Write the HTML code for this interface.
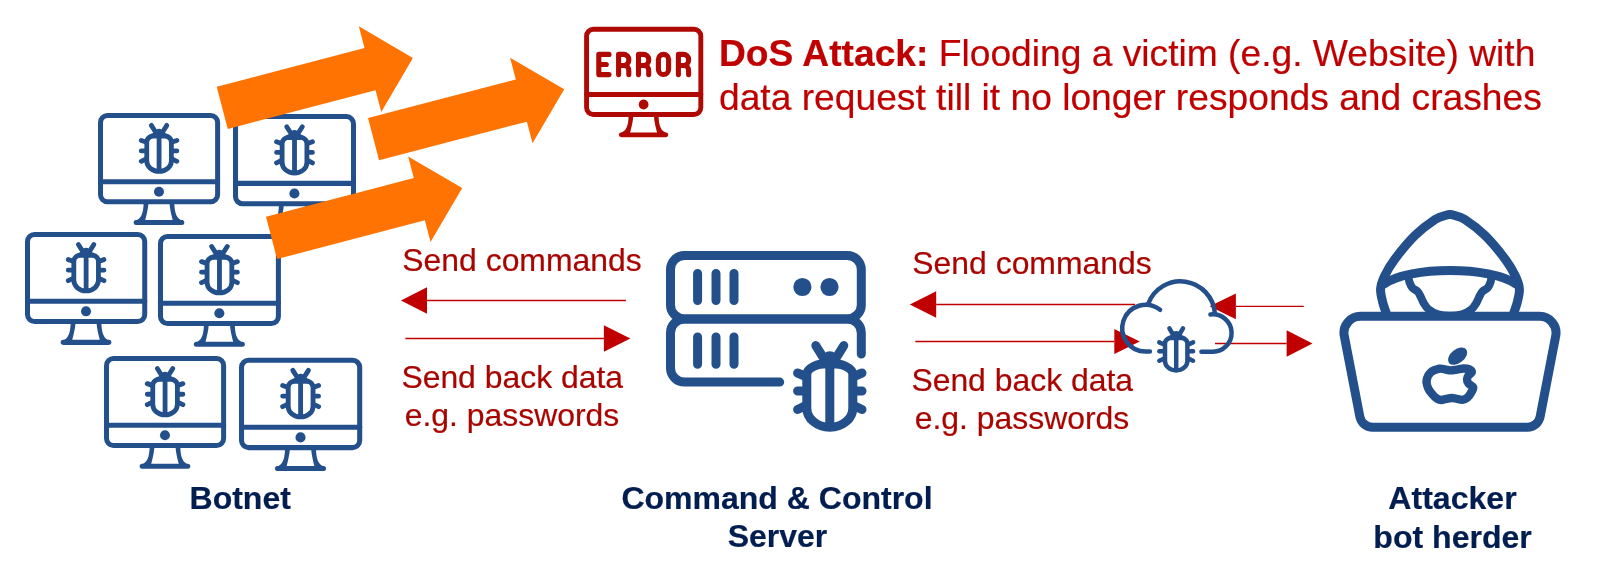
<!DOCTYPE html>
<html><head><meta charset="utf-8"><title>Botnet</title>
<style>
html,body{margin:0;padding:0;background:#fff;}
body{width:1609px;height:575px;overflow:hidden;font-family:"Liberation Sans",sans-serif;}
svg{display:block;position:absolute;left:0;top:0;will-change:transform;}
text{font-family:"Liberation Sans",sans-serif;}
</style></head><body>
<svg width="1609" height="575" viewBox="0 0 1609 575">
<rect width="1609" height="575" fill="#fff"/>
<defs><g id="mon">
<g fill="none" stroke="#234F8B" stroke-width="5.0" stroke-linecap="round" stroke-linejoin="round">
<rect x="2.45" y="2.45" width="117.1" height="86.4" rx="7" ry="7"/>
<path d="M2.45 68.7H119.55"/>
<path d="M38.1 109.55H83.7"/>
</g>
<path fill="#234F8B" d="M45.6 90C45.2 100 43.6 106 36.5 108L46.9 108C48.5 102 50 96 50.4 90ZM76.2 90C76.6 100 78.2 106 85.3 108L74.9 108C73.3 102 71.8 96 71.4 90Z"/>
<circle cx="60.9" cy="78.75" r="5" fill="#234F8B"/>
<g fill="none" stroke="#234F8B" stroke-width="4.8" stroke-linecap="round" stroke-linejoin="round">
<path d="M48.7 29.05A12.3 7.6 0 0 1 73.3 29.05L73.3 48.05A12.3 10.4 0 0 1 48.7 48.05Z"/>
<path d="M61 21.45L61 58.45" stroke-linecap="butt" stroke-width="4.8"/>
<path d="M58.4 20.5L53.25 12.45M63.6 20.5L68.75 12.45"/>
<path d="M48 29.15L43.2 27.45M74 29.15L78.8 27.45M48 37.95L43.2 37.95M74 37.95L78.8 37.95M48 46.05L43.2 48.35M74 46.05L78.8 48.35"/>
</g>
<path fill="#234F8B" d="M50.04 25.6A12.3 7.6 0 0 1 71.96 25.6Z"/>
<circle cx="61" cy="19.9" r="4.2" fill="#234F8B"/>
</g></defs>
<use href="#mon" transform="translate(98.07 112.95) scale(1 1)"/>
<use href="#mon" transform="translate(233.06 114.13) scale(1.0075 1.008)"/>
<use href="#mon" transform="translate(25.06 231.94) scale(1.001 1.008)"/>
<use href="#mon" transform="translate(158.02 233.97) scale(1.007 1.0075)"/>
<use href="#mon" transform="translate(104.07 356) scale(1.0 1.007)"/>
<use href="#mon" transform="translate(239.07 357.8) scale(1.009 1.011)"/>
<polygon fill="#FF7302" points="216.72,86.66 364.51,47.98 358.84,26.31 412.9,57.9 381.25,111.93 375.58,90.26 227.78,128.94"/>
<polygon fill="#FF7302" points="368.02,118.06 515.81,79.38 510.14,57.71 564.2,89.3 532.55,143.33 526.88,121.66 379.08,160.34"/>
<polygon fill="#FF7302" points="266.02,216.76 413.81,178.08 408.14,156.41 462.2,188 430.55,242.03 424.88,220.36 277.08,259.04"/>
<g transform="translate(584.17 26.78) scale(0.9757 0.9866)">
<g fill="none" stroke="#B00903" stroke-width="5.0" stroke-linecap="round" stroke-linejoin="round">
<rect x="2.45" y="2.45" width="117.1" height="86.4" rx="7" ry="7"/>
<path d="M2.45 68.7H119.55"/>
<path d="M38.1 109.55H83.7"/>
</g>
<path fill="#B00903" d="M45.6 90C45.2 100 43.6 106 36.5 108L46.9 108C48.5 102 50 96 50.4 90ZM76.2 90C76.6 100 78.2 106 85.3 108L74.9 108C73.3 102 71.8 96 71.4 90Z"/>
<circle cx="60.9" cy="78.75" r="5" fill="#B00903"/>
</g>
<g fill="none" stroke="#B00903" stroke-width="5.1" stroke-linecap="round" stroke-linejoin="round">
<path d="M609 54.4H598.8V74.6H609M598.8 64.5H606.3M618.6 74.6V54.4H623.6A5.2 5.2 0 0 1 628.8 59.6V60.3A5.2 5.2 0 0 1 623.6 65.5H618.6M624.1 65.5C628.1 66 628.8 68 628.8 71V74.6M638.5 74.6V54.4H643.5A5.2 5.2 0 0 1 648.7 59.6V60.3A5.2 5.2 0 0 1 643.5 65.5H638.5M644 65.5C648 66 648.7 68 648.7 71V74.6M658.4 59.5A5.1 5.1 0 0 1 668.6 59.5V69.4A5.1 5.1 0 0 1 658.4 69.4ZM678.4 74.6V54.4H683.4A5.2 5.2 0 0 1 688.6 59.6V60.3A5.2 5.2 0 0 1 683.4 65.5H678.4M683.9 65.5C687.9 66 688.6 68 688.6 71V74.6"/>
</g>
<text x="719" y="66" font-size="37.2" fill="#C00000" stroke="#C00000" stroke-width="0.2"><tspan font-weight="bold">DoS Attack:</tspan> Flooding a victim (e.g. Website) with</text>
<text x="719" y="110" font-size="37.2" fill="#C00000" stroke="#C00000" stroke-width="0.2">data request till it no longer responds and crashes</text>
<text x="522" y="270.5" font-size="31.9" text-anchor="middle" fill="#A90500" stroke="#A90500" stroke-width="0.2">Send commands</text>
<text x="512.2" y="387.5" font-size="31.9" text-anchor="middle" fill="#A90500" stroke="#A90500" stroke-width="0.2">Send back data</text>
<text x="512" y="426" font-size="31.9" text-anchor="middle" fill="#A90500" stroke="#A90500" stroke-width="0.2">e.g. passwords</text>
<text x="1032" y="273.6" font-size="31.9" text-anchor="middle" fill="#A90500" stroke="#A90500" stroke-width="0.2">Send commands</text>
<text x="1022.2" y="390.6" font-size="31.9" text-anchor="middle" fill="#A90500" stroke="#A90500" stroke-width="0.2">Send back data</text>
<text x="1022" y="429" font-size="31.9" text-anchor="middle" fill="#A90500" stroke="#A90500" stroke-width="0.2">e.g. passwords</text>
<path d="M625.9 300.5H427" stroke="#C00000" stroke-width="1.35" fill="none"/><path d="M400.9 300.5L427 287.3V313.7Z" fill="#C00000"/>
<path d="M405.4 338.5H603.9" stroke="#C00000" stroke-width="1.35" fill="none"/><path d="M630.4 338.5L603.9 325.3V351.7Z" fill="#C00000"/>
<path d="M1135 304.5H936.2" stroke="#C00000" stroke-width="1.35" fill="none"/><path d="M909.8 304.5L936.2 291.3V317.7Z" fill="#C00000"/>
<path d="M915.3 341.5H1114.3" stroke="#C00000" stroke-width="1.35" fill="none"/><path d="M1139.8 341.5L1114.3 328.9V354.1Z" fill="#C00000"/>
<path d="M1303.8 306.3H1235.9" stroke="#C00000" stroke-width="1.35" fill="none"/><path d="M1209.6 306.3L1235.9 293.4V319.2Z" fill="#C00000"/>
<path d="M1215 343.5H1286.6" stroke="#C00000" stroke-width="1.35" fill="none"/><path d="M1312.5 343.5L1286.6 330.3V356.7Z" fill="#C00000"/>
<g fill="none" stroke="#234F8B" stroke-width="9" stroke-linecap="round" stroke-linejoin="round">
<rect x="670.5" y="255.5" width="190.8" height="63.4" rx="14" ry="14"/>
<path d="M779.7 382.1H684.5A14 14 0 0 1 670.5 368.1V332.9A14 14 0 0 1 684.5 318.9H847.3A14 14 0 0 1 861.3 332.9V354"/>
<path d="M697.6 273.5V300.5M716 273.5V300.5M734 273.5V300.5M697.6 336.9V364.2M716 336.9V364.2M734 336.9V364.2"/>
</g>
<circle cx="802.4" cy="287" r="9.1" fill="#234F8B"/><circle cx="829.5" cy="287" r="9.1" fill="#234F8B"/>
<g fill="none" stroke="#234F8B" stroke-width="9" stroke-linecap="round" stroke-linejoin="round">
<path d="M806.8 374.6A23 11.5 0 0 1 852.8 374.6L852.8 408.2A23 19 0 0 1 806.8 408.2Z"/>
<path d="M829.8 363.1L829.8 427.2" stroke-linecap="butt" stroke-width="9"/>
<path d="M824.8 360L815.8 345.6M834.8 360L843.8 345.6"/>
<path d="M805.8 376.5L797.6 373M853.8 376.5L862 373M805.8 391L797.6 391M853.8 391L862 391M805.8 405.5L797.6 409.5M853.8 405.5L862 409.5"/>
</g>
<path fill="#234F8B" d="M810.18 368.6A23 11.5 0 0 1 849.42 368.6Z"/>
<circle cx="829.8" cy="359.3" r="8" fill="#234F8B"/>
<g fill="none" stroke="#234F8B" stroke-width="4.5" stroke-linecap="round" stroke-linejoin="round">
<path d="M1160.1 309.8A23.4 23.4 0 1 0 1145.8 351.6H1149.9"/>
<path d="M1148.2 303.7A34.5 34.5 0 0 1 1214.9 313.4"/>
<path d="M1210.4 314.4A18.75 18.75 0 1 1 1211.6 351.7H1201.4"/>
</g>
<g fill="none" stroke="#234F8B" stroke-width="4.5" stroke-linecap="round" stroke-linejoin="round">
<path d="M1165 343.2A11.2 6.6 0 0 1 1187.4 343.2L1187.4 361A11.2 9.4 0 0 1 1165 361Z"/>
<path d="M1176.2 336.6L1176.2 370.4" stroke-linecap="butt" stroke-width="4.5"/>
<path d="M1173.9 336L1169.4 328.4M1178.5 336L1183 328.4"/>
<path d="M1164.2 344.5L1159.3 342.4M1188.2 344.5L1193.1 342.4M1164.2 351.3L1159.3 351.3M1188.2 351.3L1193.1 351.3M1164.2 358.6L1159.3 360.7M1188.2 358.6L1193.1 360.7"/>
</g>
<path fill="#234F8B" d="M1166.14 340.3A11.2 6.6 0 0 1 1186.26 340.3Z"/>
<circle cx="1176.2" cy="335" r="3.9" fill="#234F8B"/>
<g fill="none" stroke="#234F8B" stroke-width="9" stroke-linecap="round" stroke-linejoin="round">
<path d="M1386.6 314C1385.95 312.02 1383.7 306.28 1382.7 302.1C1381.7 297.92 1380.28 293.25 1380.6 288.9C1380.92 284.55 1382.3 280.87 1384.6 276C1386.9 271.13 1389.35 266.45 1394.4 259.7C1399.45 252.95 1408.12 242.22 1414.9 235.5C1421.68 228.78 1429.92 222.77 1435.1 219.4C1440.28 216.03 1443.52 216.1 1446 215.3C1448.48 214.5 1448.67 214.6 1450 214.6C1451.33 214.6 1451.52 214.5 1454 215.3C1456.48 216.1 1459.72 216.03 1464.9 219.4C1470.08 222.77 1478.32 228.78 1485.1 235.5C1491.88 242.22 1500.55 252.95 1505.6 259.7C1510.65 266.45 1513.1 271.13 1515.4 276C1517.7 280.87 1519.08 284.55 1519.4 288.9C1519.72 293.25 1518.3 297.92 1517.3 302.1C1516.3 306.28 1514.05 312.02 1513.4 314"/>
<path d="M1384 284C1410 266 1490 266 1516 284"/>
<path d="M1408.3 277C1408.52 277.92 1408.92 280.7 1409.6 282.5C1410.28 284.3 1411.07 286.28 1412.4 287.8C1413.73 289.32 1416.23 290.15 1417.6 291.6C1418.97 293.05 1419.63 294.68 1420.6 296.5C1421.57 298.32 1422.02 300.32 1423.4 302.5C1424.78 304.68 1426.47 307.63 1428.9 309.6C1431.33 311.57 1434.48 313.27 1438 314.3C1441.52 315.33 1446 315.8 1450 315.8C1454 315.8 1458.48 315.33 1462 314.3C1465.52 313.27 1468.67 311.57 1471.1 309.6C1473.53 307.63 1475.22 304.68 1476.6 302.5C1477.98 300.32 1478.43 298.32 1479.4 296.5C1480.37 294.68 1481.03 293.05 1482.4 291.6C1483.77 290.15 1486.27 289.32 1487.6 287.8C1488.93 286.28 1489.72 284.3 1490.4 282.5C1491.08 280.7 1491.48 277.92 1491.7 277" stroke-width="8"/>
<path d="M1344.28 335.92A16.5 16.5 0 0 1 1360.48 316.3L1539.52 316.3A16.5 16.5 0 0 1 1555.72 335.92L1540.13 416.76A13 13 0 0 1 1527.37 427.3L1372.63 427.3A13 13 0 0 1 1359.87 416.76Z"/>
</g>
<path d="M1439.4 368.7C1437 369.22 1432.73 370.53 1430.6 372.5C1428.47 374.47 1427 377.87 1426.6 380.5C1426.2 383.13 1427.23 385.98 1428.2 388.3C1429.17 390.62 1430.93 392.67 1432.4 394.4C1433.87 396.13 1435.48 397.77 1437 398.7C1438.52 399.63 1439.92 399.98 1441.5 400C1443.08 400.02 1444.78 399.13 1446.5 398.8C1448.22 398.47 1450.05 398 1451.8 398C1453.55 398 1455.23 398.5 1457 398.8C1458.77 399.1 1460.65 400.03 1462.4 399.8C1464.15 399.57 1466.07 398.57 1467.5 397.4C1468.93 396.23 1470.05 394.47 1471 392.8C1471.95 391.13 1473.62 388.95 1473.2 387.4C1472.78 385.85 1469.53 384.82 1468.5 383.5C1467.47 382.18 1467.02 380.83 1467 379.5C1466.98 378.17 1467.6 376.7 1468.4 375.5C1469.2 374.3 1471.63 373.32 1471.8 372.3C1471.97 371.28 1470.77 370.03 1469.4 369.4C1468.03 368.77 1465.67 368.47 1463.6 368.5C1461.53 368.53 1459.18 369.28 1457 369.6C1454.82 369.92 1452.5 370.43 1450.5 370.4C1448.5 370.37 1446.85 369.68 1445 369.4C1443.15 369.12 1441.8 368.18 1439.4 368.7Z" fill="none" stroke="#234F8B" stroke-width="8.4" stroke-linecap="round" stroke-linejoin="round"/>
<ellipse cx="1457.6" cy="356.2" rx="11" ry="6.8" transform="rotate(-38 1457.6 356.2)" fill="#234F8B"/>
<text x="240.2" y="508.5" font-size="32" text-anchor="middle" fill="#021E50" stroke="#021E50" stroke-width="0.2" font-weight="bold">Botnet</text>
<text x="777" y="508.6" font-size="32" text-anchor="middle" fill="#021E50" stroke="#021E50" stroke-width="0.2" font-weight="bold">Command &amp; Control</text>
<text x="777.5" y="547.3" font-size="32" text-anchor="middle" fill="#021E50" stroke="#021E50" stroke-width="0.2" font-weight="bold">Server</text>
<text x="1452.5" y="508.7" font-size="32.1" text-anchor="middle" fill="#021E50" stroke="#021E50" stroke-width="0.2" font-weight="bold">Attacker</text>
<text x="1452.6" y="547.7" font-size="32.05" text-anchor="middle" fill="#021E50" stroke="#021E50" stroke-width="0.2" font-weight="bold">bot herder</text>
</svg></body></html>
